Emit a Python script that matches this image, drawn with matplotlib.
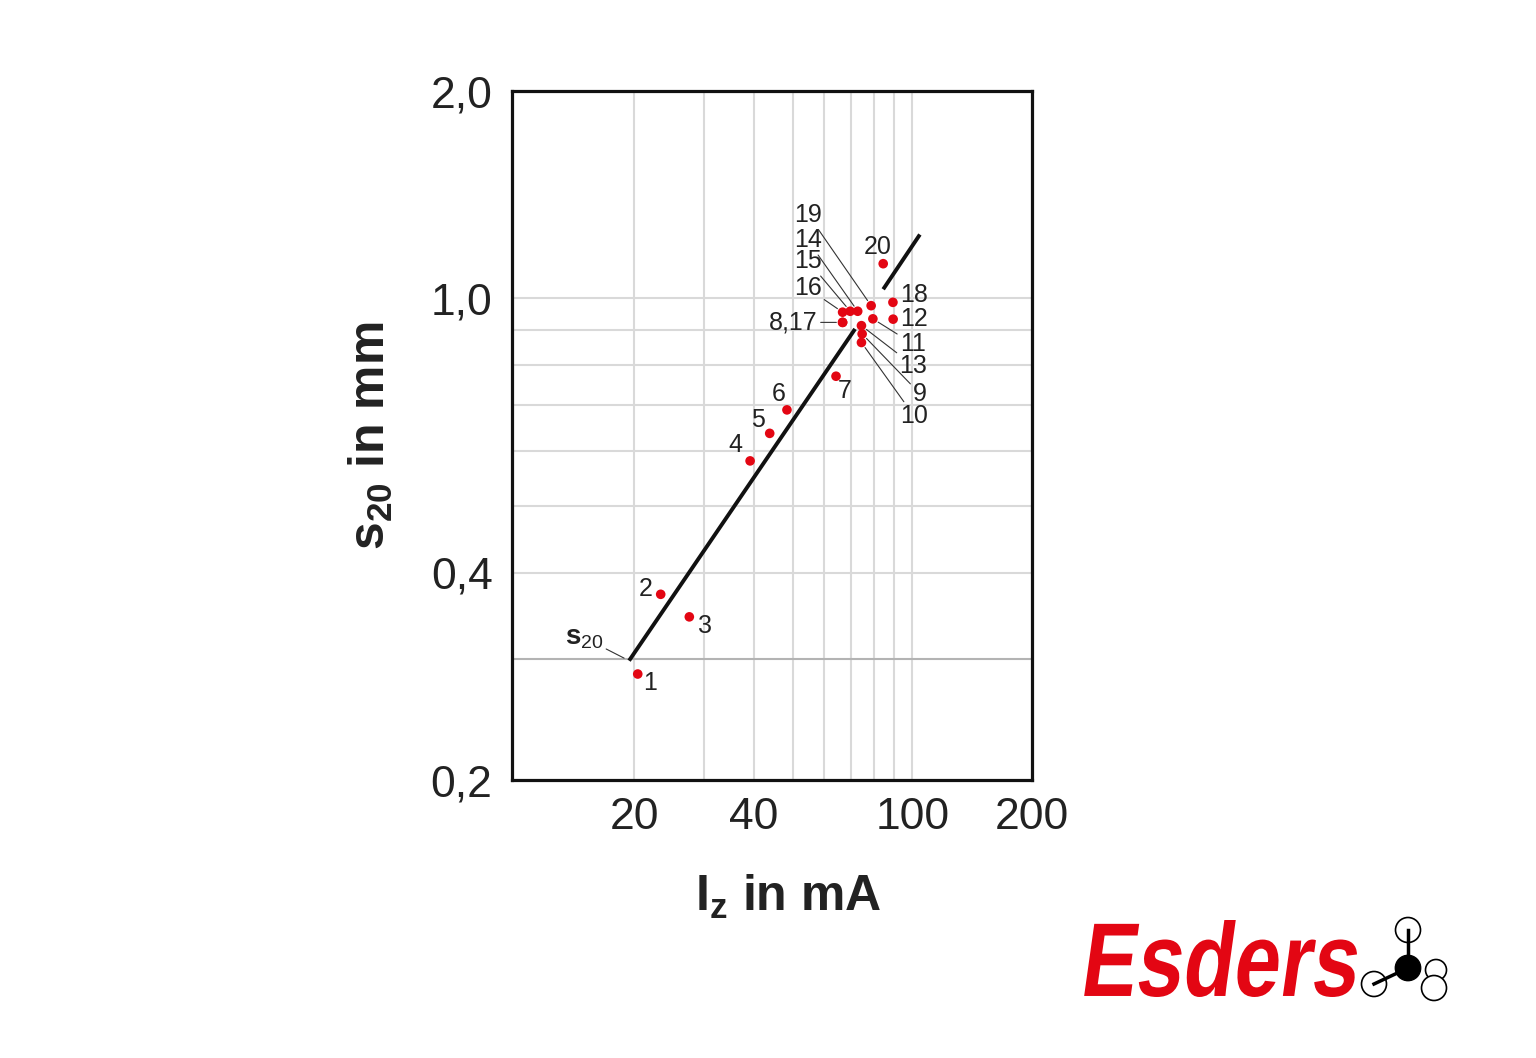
import matplotlib
matplotlib.use("Agg")
import matplotlib.pyplot as plt
from matplotlib.patches import Circle, PathPatch
from matplotlib.textpath import TextPath
from matplotlib.font_manager import FontProperties
from matplotlib.transforms import Affine2D

plt.rcParams['font.family'] = ['Liberation Sans', 'DejaVu Sans']
plt.rcParams['mathtext.fontset'] = 'custom'
plt.rcParams['mathtext.rm'] = 'Liberation Sans'
plt.rcParams['mathtext.bf'] = 'Liberation Sans:bold'

# measured points (current in mA, thickness s20 in mm)
point_labels = ['1', '2', '3', '4', '5', '6', '7', '8,17', '9', '10',
                '11', '12', '13', '14', '15', '16', '17', '18', '19', '20']
current_mA = [20.4, 23.3, 27.5, 39.1, 43.8, 48.4, 64.3, 66.8, 74.8, 74.5,
              79.6, 89.5, 74.5, 72.9, 69.8, 66.8, 66.8, 89.4, 78.8, 84.5]
s20_mm = [0.285, 0.372, 0.345, 0.581, 0.637, 0.689, 0.771, 0.923, 0.888, 0.863,
          0.934, 0.933, 0.913, 0.958, 0.958, 0.955, 0.923, 0.987, 0.976, 1.123]

# s20 fit line, drawn in two pieces (gap around the point cloud)
fit_low_x = [19.4, 71.8]
fit_low_y = [0.298, 0.903]
fit_high_x = [84.5, 104.5]
fit_high_y = [1.031, 1.238]

x_ticks = [20, 40, 100, 200]
x_ticklabels = ['20', '40', '100', '200']
y_ticks = [0.2, 0.4, 1.0, 2.0]
y_ticklabels = ['0,2', '0,4', '1,0', '2,0']
x_grid = [20, 30, 40, 50, 60, 70, 80, 90, 100]
y_grid = [0.4, 0.5, 0.6, 0.7, 0.8, 0.9, 1.0]

RED = '#e30613'
TXT = '#222222'

fig = plt.figure(figsize=(15.36, 10.58), dpi=100)
ax = fig.add_axes([512 / 1536, 1 - 780 / 1058, 520 / 1536, 689 / 1058])
ax.set_xscale('log')
ax.set_yscale('log')
ax.set_xlim(9.85, 200)
ax.set_ylim(0.2, 2.0)

for gx in x_grid:
    ax.axvline(gx, color='#d9d9d9', lw=1.5, zorder=0)
for gy in y_grid:
    ax.axhline(gy, color='#d9d9d9', lw=1.5, zorder=0)
ax.axhline(0.3, color='#b3b3b3', lw=1.5, zorder=0)

ax.plot(fit_low_x, fit_low_y, color='#111111', lw=2.8, solid_capstyle='butt', zorder=2)
ax.plot(fit_high_x, fit_high_y, color='#111111', lw=2.8, solid_capstyle='butt', zorder=2)
ax.scatter(current_mA, s20_mm, s=48, color=RED, edgecolors='none', zorder=3)

ax.minorticks_off()
ax.set_xticks(x_ticks)
ax.set_xticklabels(x_ticklabels)
ax.set_yticks(y_ticks)
ax.set_yticklabels(y_ticklabels)
ax.tick_params(length=0, labelsize=32, labelcolor=TXT)
ax.tick_params(axis='x', pad=12)
ax.tick_params(axis='y', pad=14)
for sp in ax.spines.values():
    sp.set_linewidth(2.3)
    sp.set_color('#111111')

ax.set_xlabel(r'$\mathbf{I_z}$ in mA', fontsize=36, fontweight='bold', color=TXT)
ax.xaxis.set_label_coords(0.532, -0.135)
ax.set_ylabel(r'$\mathbf{s_{20}}$ in mm', fontsize=36, fontweight='bold', labelpad=26, color=TXT)

# label offsets (pixels) from each point; leader lines for the crowded ones
offsets = {
    '1': (12, -9), '2': (-15, 5), '3': (16, -9), '4': (-15, 16), '5': (-12, 13),
    '6': (-8, 16), '7': (9, -15), '20': (-6, 17), '18': (21, 7), '12': (21, 0),
}
leaders = {
    '19': (-63, 91), '14': (-50, 71), '15': (-42, 50), '16': (-35, 24),
    '8,17': (-49, 0), '11': (40, -25), '13': (52, -40), '9': (58, -60), '10': (53, -74),
}
for lab, xv, yv in zip(point_labels, current_mA, s20_mm):
    if lab in offsets:
        ax.annotate(lab, (xv, yv), xytext=offsets[lab], textcoords='offset pixels',
                    ha='center', va='center', fontsize=18, color=TXT)
    elif lab in leaders:
        ax.annotate(lab, (xv, yv), xytext=leaders[lab], textcoords='offset pixels',
                    ha='center', va='center', fontsize=18, color=TXT,
                    arrowprops=dict(arrowstyle='-', color='#333333', lw=0.8,
                                    shrinkA=0, shrinkB=4.5))

ax.annotate(r'$\mathbf{s}_{20}$', (fit_low_x[0], fit_low_y[0]), xytext=(-45, 23),
            textcoords='offset pixels', ha='center', va='center', fontsize=20, color=TXT,
            arrowprops=dict(arrowstyle='-', color='#333333', lw=0.8, shrinkA=0, shrinkB=4))

# Esders logo
tp = TextPath((0, 0), 'Esders', size=1, prop=FontProperties(family='Liberation Sans', weight='bold'))
ext = tp.get_extents()
lw_in, lh_in = 2.68, 0.77
tr = (Affine2D().translate(-ext.x0, -ext.y0)
      .scale(lw_in / ext.width, lh_in / ext.height)
      .skew_deg(8, 0).translate(10.84, 0.61) + fig.dpi_scale_trans)
fig.add_artist(PathPatch(tp, facecolor=RED, edgecolor='none', transform=tr))

mol = fig.dpi_scale_trans
cx, cy = 14.08, 0.90
for (bx, by) in [(14.08, 1.28), (13.74, 0.74)]:
    fig.add_artist(plt.Line2D([cx, bx], [cy, by], color='black', lw=2.5, transform=mol))
fig.add_artist(Circle((14.36, 0.88), 0.105, facecolor='white', edgecolor='black', lw=1.2, transform=mol))
fig.add_artist(Circle((cx, cy), 0.127, facecolor='black', edgecolor='black', transform=mol))
for (bx, by) in [(14.08, 1.28), (13.74, 0.74), (14.34, 0.70)]:
    fig.add_artist(Circle((bx, by), 0.125, facecolor='white', edgecolor='black', lw=1.2, transform=mol))

plt.savefig('out.png', dpi=100)
